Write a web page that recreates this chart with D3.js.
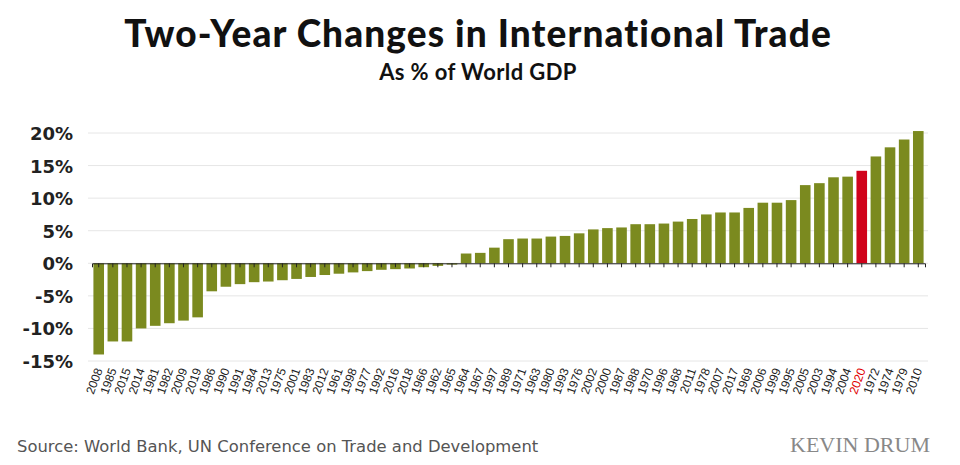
<!DOCTYPE html><html><head><meta charset="utf-8"><script src="https://cdn.jsdelivr.net/npm/d3@7"></script>
<style>body{margin:0;background:#fff}</style></head><body><svg id="c" width="960" height="465"></svg><script>
const years=["2008","1985","2015","2014","1981","1982","2009","2019","1986","1990","1991","1984","2013","1975","2001","1983","2012","1961","1998","1977","1992","2016","2018","1966","1962","1965","1964","1967","1997","1989","1971","1963","1980","1993","1976","2002","2000","1987","1988","1970","1996","1968","2011","1978","2007","2017","1969","2006","1999","1995","2005","2003","1994","2004","2020","1972","1974","1979","2010"];
const values=[-14,-12,-12,-10,-9.6,-9.2,-8.8,-8.3,-4.3,-3.6,-3.2,-2.9,-2.8,-2.6,-2.4,-2.1,-1.8,-1.6,-1.4,-1.2,-1.0,-0.9,-0.8,-0.6,-0.4,-0.2,1.5,1.6,2.4,3.7,3.8,3.8,4.1,4.2,4.6,5.2,5.4,5.5,6.0,6.0,6.1,6.4,6.8,7.5,7.8,7.8,8.5,9.3,9.3,9.7,12.0,12.3,13.2,13.3,14.2,16.4,17.8,19.0,20.3];
const yTicks=[-15,-10,-5,0,5,10,15,20];
const highlight="2020";
const svg=d3.select("#c");
const x=d3.scaleBand().domain(years).range([92,925]).paddingInner(0.25).paddingOuter(0.1);
const y=d3.scaleLinear().domain([-15,20]).range([361,133]);
svg.append("g").selectAll("line").data(yTicks).join("line").attr("x1",88).attr("x2",928).attr("y1",d=>y(d)).attr("y2",d=>y(d)).attr("stroke","#e6e6e6");
svg.append("g").selectAll("text").data(yTicks).join("text").attr("x",73).attr("y",d=>y(d)+7).attr("text-anchor","end").attr("font-family","Verdana, DejaVu Sans").attr("font-weight","bold").attr("font-size",18).attr("fill","#222").text(d=>d+"%");
svg.append("g").selectAll("rect").data(values).join("rect").attr("x",(d,i)=>x(years[i])).attr("width",x.bandwidth()).attr("y",d=>y(Math.max(0,d))).attr("height",d=>Math.abs(y(d)-y(0))).attr("fill",(d,i)=>years[i]===highlight?"#d0021b":"#7b8a1f");
const ax=svg.append("g").attr("transform",`translate(0,${y(0)})`).call(d3.axisBottom(x).tickSize(4).tickFormat(""));
ax.select(".domain").attr("stroke","#222");
ax.selectAll(".tick line").attr("stroke","#222");
svg.append("g").selectAll("text").data(years).join("text").attr("transform",d=>`translate(${x(d)+x.bandwidth()/2+4},370) rotate(-70)`).attr("text-anchor","end").attr("font-family","Liberation Sans, Arial").attr("font-size",12).attr("fill",d=>d===highlight?"#e00000":"#222").text(d=>d);
svg.append("text").attr("x",478).attr("y",47).attr("text-anchor","middle").attr("font-family","Lato").attr("font-weight",900).attr("font-size",37).attr("letter-spacing",1.1).attr("fill","#111").text("Two-Year Changes in International Trade");
svg.append("text").attr("x",478).attr("y",80).attr("text-anchor","middle").attr("font-family","Lato").attr("font-weight",700).attr("font-size",22).attr("letter-spacing",0.4).attr("fill","#111").text("As % of World GDP");
svg.append("text").attr("x",17).attr("y",452).attr("font-family","DejaVu Sans").attr("font-size",16.4).attr("fill","#555").text("Source: World Bank, UN Conference on Trade and Development");
svg.append("text").attr("x",930).attr("y",452).attr("text-anchor","end").attr("font-family","Liberation Serif").attr("font-size",22).attr("fill","#888").text("KEVIN DRUM");
</script></body></html>
